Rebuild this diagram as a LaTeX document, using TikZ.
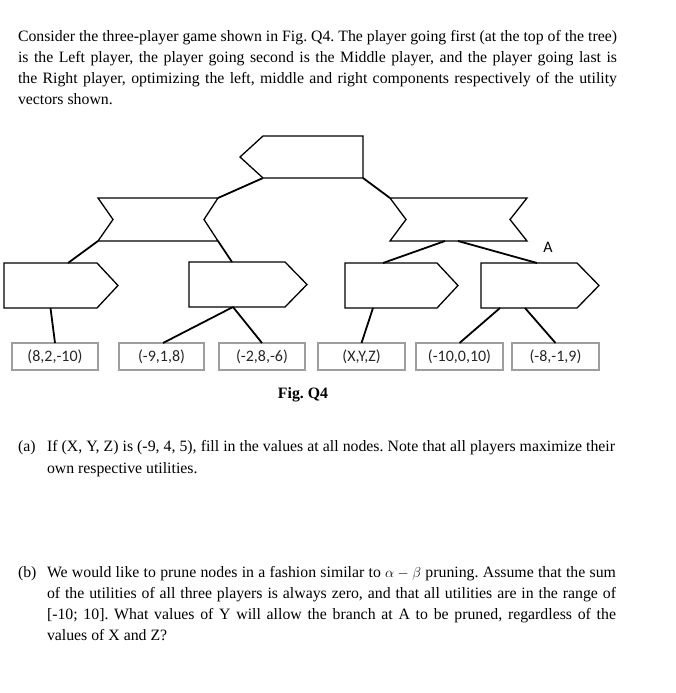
\documentclass[tikz,border=0pt]{standalone}
\usepackage{fontspec}
\setmainfont{Liberation Serif}
\newfontfamily\calib{Carlito}
\frenchspacing
\begin{document}
\begin{tikzpicture}[x=1pt,y=-1pt,
  rect/.style={draw=none,inner sep=0pt,outer sep=0pt},
  outline/.style={line width=1.3pt,black,line join=miter},
  edge/.style={line width=1.8pt,black},
  leaf/.style={draw=black!38,line width=1.3pt,inner sep=0pt,outer sep=0pt,
    minimum height=27pt,font=\calib\fontsize{16}{18}\selectfont,text=black!85},
  para/.style={anchor=base west,inner sep=0pt,outer sep=0pt,font=\fontsize{15.8}{21}\selectfont}]
\useasboundingbox (0,0) rectangle (675,693);

% ---------- text ----------
\node[para] (p1) at (18,41.5) {\makebox[599pt][s]{Consider the three-player game shown in Fig. Q4. The player going first (at the top of the tree)}};
\node[para] (p2) at (18,62.5) {\makebox[599pt][s]{is the Left player, the player going second is the Middle player, and the player going last is}};
\node[para] (p3) at (18,83.5) {\makebox[599pt][s]{the Right player, optimizing the left, middle and right components respectively of the utility}};
\node[para] (p4) at (18,104.5) {vectors shown.};

\node[para] (qa) at (18,451) {(a)};
\node[para] (a1) at (47,451) {\makebox[568pt][s]{If (X, Y, Z) is (-9, 4, 5), fill in the values at all nodes. Note that all players maximize their}};
\node[para] (a2) at (47,473) {own respective utilities.};

\node[para] (qb) at (18,577) {(b)};
\node[para] (b1t) at (47,577) {\makebox[569pt][s]{We would like to prune nodes in a fashion similar to $\alpha-\beta$ pruning. Assume that the sum}};
\node[para] (b2t) at (47,598) {\makebox[569pt][s]{of the utilities of all three players is always zero, and that all utilities are in the range of}};
\node[para] (b3t) at (47,619) {\makebox[569pt][s]{[-10; 10]. What values of Y will allow the branch at A to be pruned, regardless of the}};
\node[para] (b4t) at (47,640) {values of X and Z?};

\node[anchor=base,inner sep=0pt,font=\bfseries\fontsize{15.8}{18}\selectfont] (fig) at (303,398) {Fig. Q4};

% ---------- tree nodes ----------
\node[rect,minimum width=100pt,minimum height=42pt] (top) at (313,157) {};
\draw[outline] (top.north west) -- (top.north east) -- (top.south east) -- (top.south west)
  -- ([xshift=-23pt]top.west) -- cycle;

\node[rect,minimum width=120pt,minimum height=43pt] (lm) at (158,219.5) {};
\draw[outline] (lm.north west) -- (lm.north east) -- ([xshift=-14pt]lm.east) -- (lm.south east)
  -- (lm.south west) -- ([xshift=15pt]lm.west) -- cycle;

\node[rect,minimum width=137pt,minimum height=43pt] (rm) at (458.5,219.5) {};
\draw[outline] (rm.north west) -- (rm.north east) -- ([xshift=-17pt]rm.east) -- (rm.south east)
  -- (rm.south west) -- ([xshift=16pt]rm.west) -- cycle;

\node[rect,minimum width=93pt,minimum height=45pt] (n1) at (50.5,285.5) {};
\node[rect,minimum width=96pt,minimum height=45pt] (n2) at (237,284.5) {};
\node[rect,minimum width=92pt,minimum height=45pt] (n3) at (391,285.5) {};
\node[rect,minimum width=96pt,minimum height=45pt] (n4) at (529,285.5) {};
\foreach \n/\t in {n1/21,n2/22,n3/21,n4/22}{
  \draw[outline] (\n.north west) -- (\n.north east) -- ([xshift=\t pt]\n.east) -- (\n.south east)
    -- (\n.south west) -- cycle;
}

\node[leaf,minimum width=86pt] (l1) at (55,356.5) {(8,2,-10)};
\node[leaf,minimum width=85pt] (l2) at (161.5,356.5) {(-9,1,8)};
\node[leaf,minimum width=86pt] (l3) at (262,356.5) {(-2,8,-6)};
\node[leaf,minimum width=87pt] (l4) at (361.5,356.5) {(X,Y,Z)};
\node[leaf,minimum width=87pt] (l5) at (459.5,356.5) {(-10,0,10)};
\node[leaf,minimum width=87pt] (l6) at (555.5,356.5) {(-8,-1,9)};

\node[inner sep=0pt,font=\calib\fontsize{16}{18}\selectfont] (labA) at (548,247) {A};

% ---------- connectors ----------
\draw[edge] (top.south west) -- (lm.north east);
\draw[edge] (top.south east) -- (rm.north west);
\draw[edge] (lm.south west) -- ([xshift=17.5pt]n1.north);
\draw[edge] (lm.south east) -- ([xshift=-5pt]n2.north);
\draw[edge] ([xshift=-13.5pt]rm.south) -- ([xshift=-8pt]n3.north);
\draw[edge] ([xshift=-0.5pt]rm.south) -- ([xshift=8pt]n4.north);
\draw[edge] (n1.south) -- (l1.north);
\draw[edge] ([xshift=-4pt]n2.south) -- ([xshift=1.5pt]l2.north);
\draw[edge] ([xshift=-4pt]n2.south) -- (l3.north);
\draw[edge] ([xshift=-18pt]n3.south) -- (l4.north);
\draw[edge] ([xshift=-29pt]n4.south) -- (l5.north);
\draw[edge] ([xshift=-4pt]n4.south) -- (l6.north);
\end{tikzpicture}
\end{document}
